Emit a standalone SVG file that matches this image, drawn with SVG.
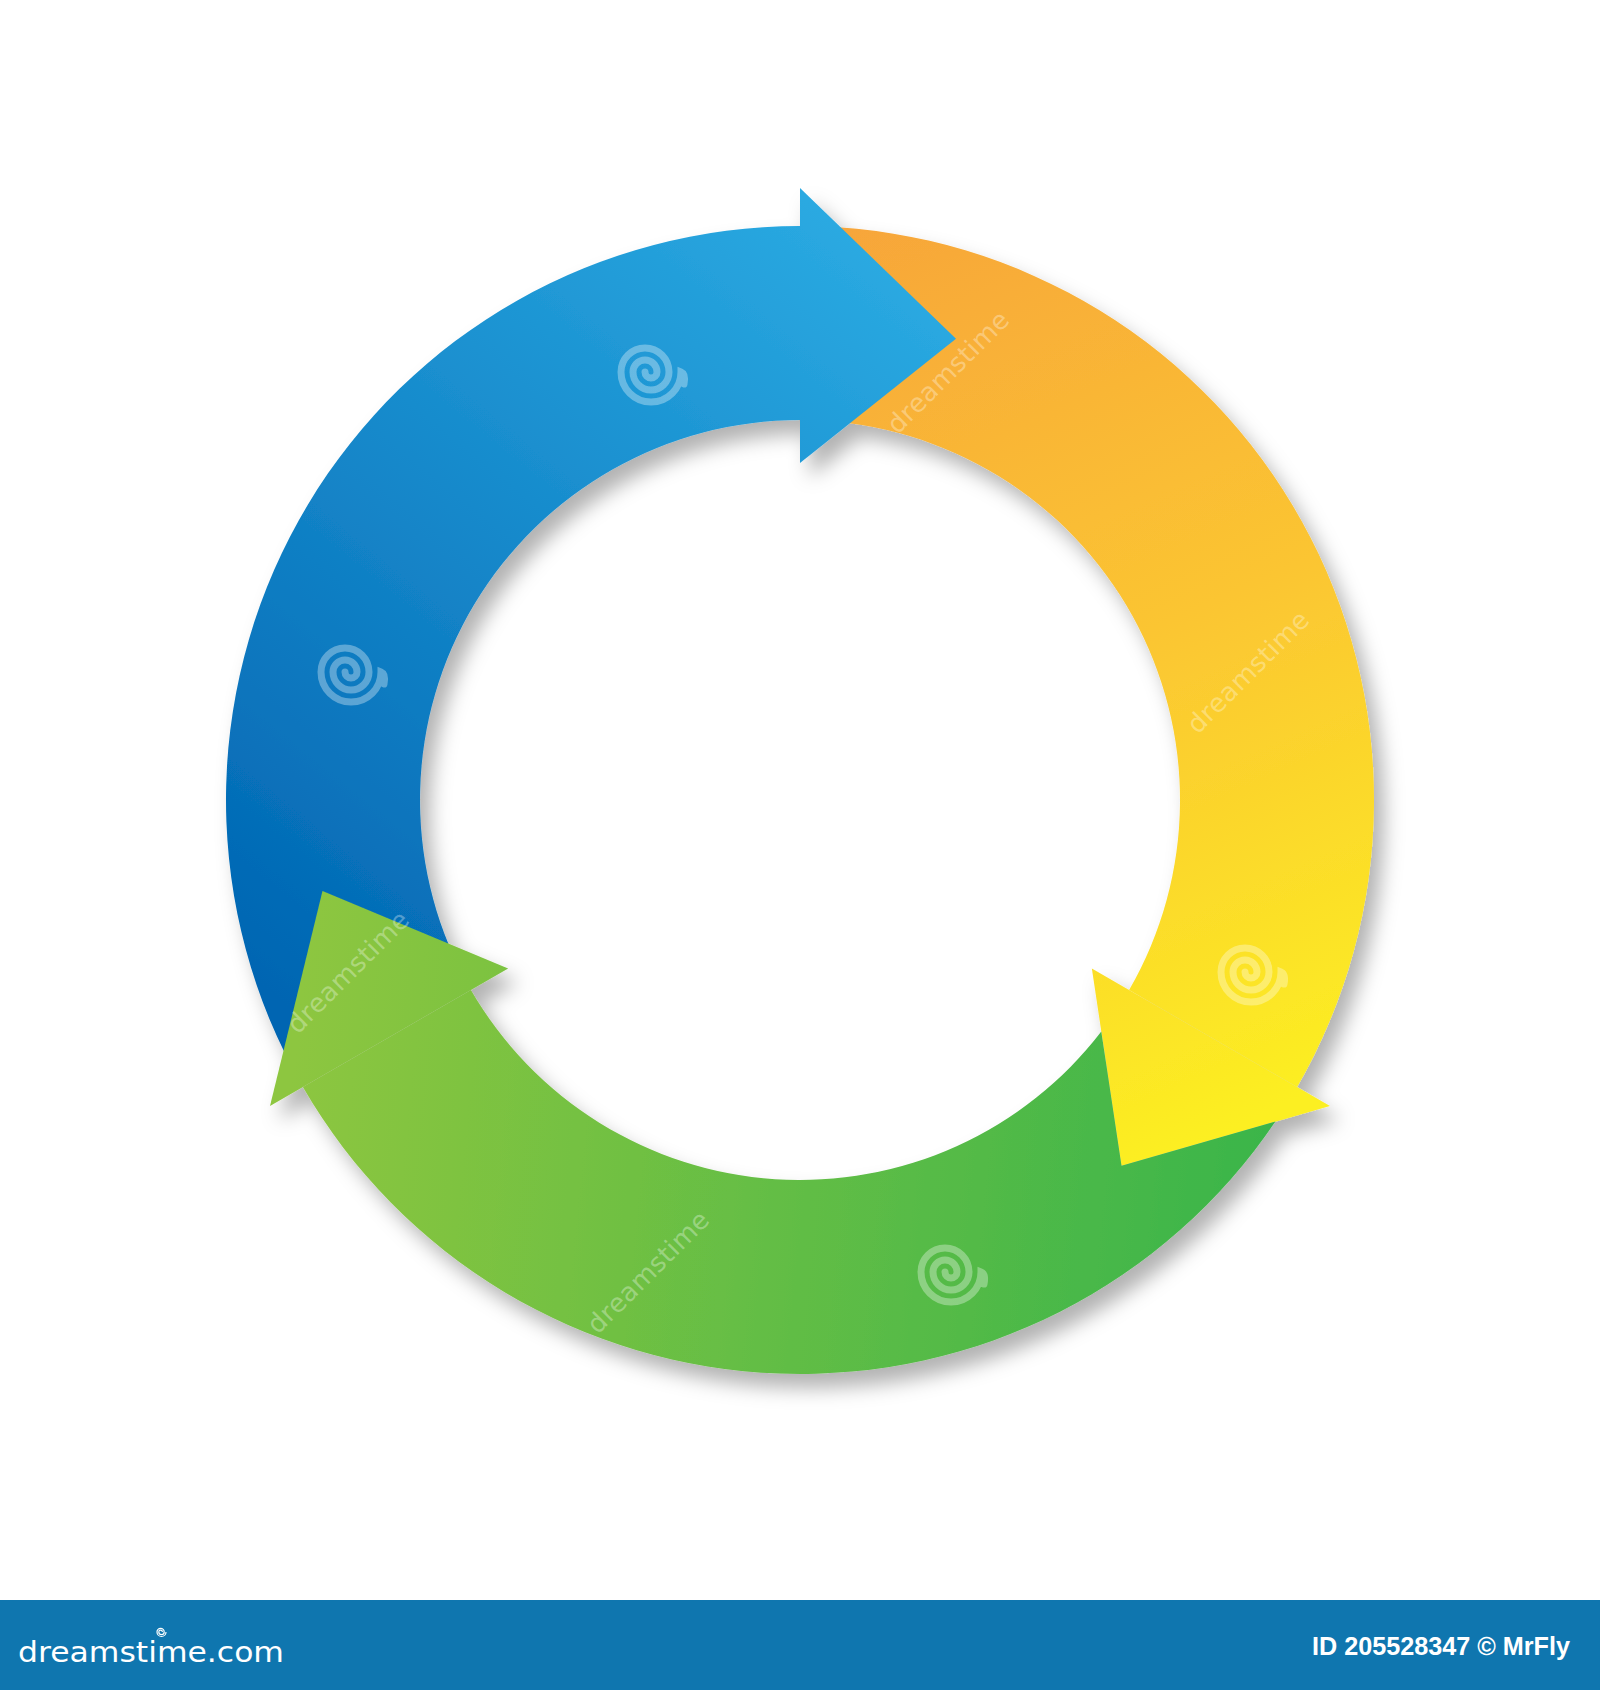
<svg xmlns="http://www.w3.org/2000/svg" xmlns:xlink="http://www.w3.org/1999/xlink" width="1600" height="1690" viewBox="0 0 1600 1690">
  <defs>
    <style>
      .wm-text { font-family: "DejaVu Sans", "Liberation Sans", sans-serif; font-size: 26px; fill: #ffffff; fill-opacity: 0.33; }
      .wm-spiral { fill: none; stroke: #ffffff; stroke-opacity: 0.33; stroke-width: 7; stroke-linecap: round; }
      .bar-logo { font-family: "DejaVu Sans", "Liberation Sans", sans-serif; font-size: 29px; fill: #ffffff; }
      .bar-id { font-family: "Liberation Sans", Arial, sans-serif; font-size: 25px; font-weight: bold; fill: #ffffff; }
    </style>
    <linearGradient id="gBlue" gradientUnits="userSpaceOnUse" x1="880" y1="260" x2="280" y2="1000">
      <stop offset="0" stop-color="#2aa9e1"/>
      <stop offset="1" stop-color="#0065b2"/>
    </linearGradient>
    <linearGradient id="gOrange" gradientUnits="userSpaceOnUse" x1="850" y1="230" x2="1250" y2="1120">
      <stop offset="0" stop-color="#f7a63a"/>
      <stop offset="0.5" stop-color="#fbc532"/>
      <stop offset="1" stop-color="#fcef22"/>
    </linearGradient>
    <linearGradient id="gGreen" gradientUnits="userSpaceOnUse" x1="1280" y1="1100" x2="300" y2="1000">
      <stop offset="0" stop-color="#3ab54a"/>
      <stop offset="1" stop-color="#8dc63f"/>
    </linearGradient>
    <filter id="shadow" x="-10%" y="-10%" width="125%" height="125%">
      <feDropShadow dx="10" dy="14" stdDeviation="10" flood-color="#000000" flood-opacity="0.3"/>
    </filter>
    <symbol id="spiral" viewBox="-40 -40 80 80" width="80" height="80" overflow="visible">
      <path class="wm-spiral" d="M 36 12 Q 38 2 33 0 A 30 30 0 0 1 -27 0 A 24 24 0 0 1 21 0 A 18 18 0 0 1 -15 0 A 12 12 0 0 1 9 0 A 6 6 0 0 1 -3 0"/>
    </symbol>
  </defs>

  <rect x="0" y="0" width="1600" height="1690" fill="#ffffff"/>

  <g id="cycle" filter="url(#shadow)">
    <g id="arrow-orange">
      <path d="M 820.0 226.35 A 574 574 0 0 1 1297.1 1087 L 1129.1 990 A 380 380 0 0 0 813.26 420.23 Z" fill="url(#gOrange)"/>
      <polygon points="1330,1106 1121.5,1165.75 1091.85,968.5" fill="url(#gOrange)"/>
    </g>
    <g id="arrow-blue">
      <path d="M 293.2 1069.5 A 574 574 0 0 1 800 226 L 800 420 A 380 380 0 0 0 464.5 978.4 Z" fill="url(#gBlue)"/>
      <polygon points="800,188 956,338.7 800,463" fill="url(#gBlue)"/>
    </g>
    <g id="arrow-green">
      <path d="M 1275.4 1121.6 A 574 574 0 0 1 302.9 1087 L 470.9 990 A 380 380 0 0 0 1101.3 1031.5 L 1121.5 1165.75 Z" fill="url(#gGreen)"/>
      <polygon points="270,1106 322.5,891 508.15,968.5" fill="url(#gGreen)"/>
    </g>
  </g>

  <g id="watermark">
    <g class="wm-texts">
      <text class="wm-text" transform="translate(78 78) rotate(-45)" text-anchor="middle" dy="9" textLength="160">dreamstime</text>
      <text class="wm-text" transform="translate(648 72) rotate(-45)" text-anchor="middle" dy="9" textLength="160">dreamstime</text>
      <text class="wm-text" transform="translate(1248 72) rotate(-45)" text-anchor="middle" dy="9" textLength="160">dreamstime</text>
      <text class="wm-text" transform="translate(348 372) rotate(-45)" text-anchor="middle" dy="9" textLength="160">dreamstime</text>
      <text class="wm-text" transform="translate(948 372) rotate(-45)" text-anchor="middle" dy="9" textLength="160">dreamstime</text>
      <text class="wm-text" transform="translate(1522 372) rotate(-45)" text-anchor="middle" dy="9" textLength="160">dreamstime</text>
      <text class="wm-text" transform="translate(78 672) rotate(-45)" text-anchor="middle" dy="9" textLength="160">dreamstime</text>
      <text class="wm-text" transform="translate(648 672) rotate(-45)" text-anchor="middle" dy="9" textLength="160">dreamstime</text>
      <text class="wm-text" transform="translate(1248 672) rotate(-45)" text-anchor="middle" dy="9" textLength="160">dreamstime</text>
      <text class="wm-text" transform="translate(348 972) rotate(-45)" text-anchor="middle" dy="9" textLength="160">dreamstime</text>
      <text class="wm-text" transform="translate(948 972) rotate(-45)" text-anchor="middle" dy="9" textLength="160">dreamstime</text>
      <text class="wm-text" transform="translate(1522 972) rotate(-45)" text-anchor="middle" dy="9" textLength="160">dreamstime</text>
      <text class="wm-text" transform="translate(78 1272) rotate(-45)" text-anchor="middle" dy="9" textLength="160">dreamstime</text>
      <text class="wm-text" transform="translate(648 1272) rotate(-45)" text-anchor="middle" dy="9" textLength="160">dreamstime</text>
      <text class="wm-text" transform="translate(1248 1272) rotate(-45)" text-anchor="middle" dy="9" textLength="160">dreamstime</text>
      <text class="wm-text" transform="translate(348 1528) rotate(-45)" text-anchor="middle" dy="9" textLength="160">dreamstime</text>
      <text class="wm-text" transform="translate(948 1528) rotate(-45)" text-anchor="middle" dy="9" textLength="160">dreamstime</text>
      <text class="wm-text" transform="translate(1522 1528) rotate(-45)" text-anchor="middle" dy="9" textLength="160">dreamstime</text>
    </g>
    <g class="wm-spirals">
      <use xlink:href="#spiral" href="#spiral" x="308" y="32"/>
      <use xlink:href="#spiral" href="#spiral" x="908" y="32"/>
      <use xlink:href="#spiral" href="#spiral" x="1508" y="32"/>
      <use xlink:href="#spiral" href="#spiral" x="8" y="332"/>
      <use xlink:href="#spiral" href="#spiral" x="608" y="332"/>
      <use xlink:href="#spiral" href="#spiral" x="1208" y="332"/>
      <use xlink:href="#spiral" href="#spiral" x="308" y="632"/>
      <use xlink:href="#spiral" href="#spiral" x="908" y="632"/>
      <use xlink:href="#spiral" href="#spiral" x="1508" y="632"/>
      <use xlink:href="#spiral" href="#spiral" x="8" y="932"/>
      <use xlink:href="#spiral" href="#spiral" x="608" y="932"/>
      <use xlink:href="#spiral" href="#spiral" x="1208" y="932"/>
      <use xlink:href="#spiral" href="#spiral" x="308" y="1232"/>
      <use xlink:href="#spiral" href="#spiral" x="908" y="1232"/>
      <use xlink:href="#spiral" href="#spiral" x="1508" y="1232"/>
      <use xlink:href="#spiral" href="#spiral" x="8" y="1532"/>
      <use xlink:href="#spiral" href="#spiral" x="608" y="1532"/>
      <use xlink:href="#spiral" href="#spiral" x="1208" y="1532"/>
    </g>
  </g>

  <g id="footer">
    <rect x="0" y="1600" width="1600" height="90" fill="#0f76af"/>
    <text class="bar-logo" x="18" y="1662" textLength="266" lengthAdjust="spacingAndGlyphs">dreamstime.com</text>
    <path d="M 166 1632 A 4.5 4.5 0 0 1 157 1632 A 3.6 3.6 0 0 1 164.2 1632 A 2.7 2.7 0 0 1 158.8 1632 A 1.8 1.8 0 0 1 162.4 1632" fill="none" stroke="#ffffff" stroke-width="1.2"/>
    <text class="bar-id" x="1570" y="1655" text-anchor="end" textLength="258" lengthAdjust="spacingAndGlyphs">ID 205528347 © MrFly</text>
  </g>
</svg>
